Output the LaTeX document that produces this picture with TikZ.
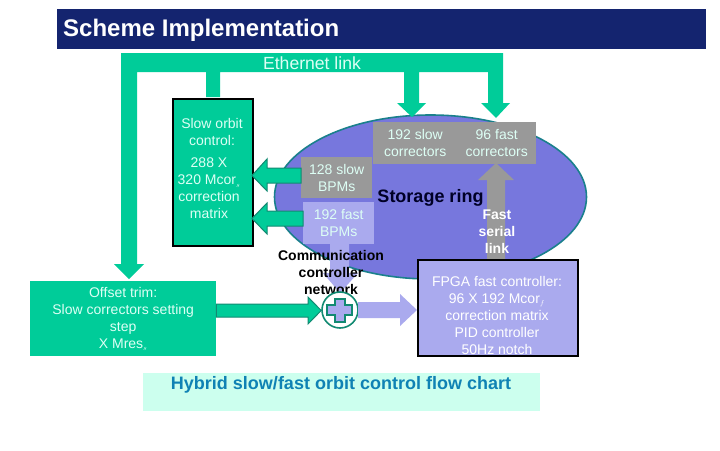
\documentclass[tikz,border=0pt]{standalone}
\usepackage{fontspec}
\setmainfont{Liberation Sans}
\usetikzlibrary{shapes.geometric}
\definecolor{navy}{HTML}{14246F}
\definecolor{bus}{HTML}{00CC99}
\definecolor{busdark}{HTML}{128A72}
\definecolor{ring}{HTML}{7777DD}
\definecolor{ringedge}{HTML}{1A808C}
\definecolor{lilac}{HTML}{AAAAEE}
\definecolor{slate}{HTML}{999999}
\definecolor{pale}{HTML}{CCFFEE}
\definecolor{capblue}{HTML}{0F82B4}
\definecolor{paletext}{HTML}{DDFFF5}
\newcommand{\fs}[2]{\fontsize{#1}{#2}\selectfont}
\tikzset{
  box/.style={inner sep=0pt, minimum width=#1, align=center, text=paletext, font=\fs{14}{17}},
  lab/.style={inner sep=0pt, align=center, font=\bfseries\fs{14}{17}},
  darrow/.style={fill=bus, draw=busdark, line width=1pt}
}
\begin{document}
\begin{tikzpicture}[x=1pt,y=-1pt,line join=miter]
\useasboundingbox (0,0) rectangle (720,450);
\fill[white] (0,0) rectangle (720,450);

% title
\node[fill=navy, minimum width=649pt, minimum height=40pt, inner sep=0pt, anchor=north west] (title) at (57,9) {};
\node[anchor=west, inner sep=0pt, text=white, font=\bfseries\fs{24}{28}] (titletxt) at (63,30) {Scheme Implementation};

% storage ring
\node[ellipse, draw=ringedge, line width=1.6pt, fill=ring, minimum width=312pt, minimum height=164pt, inner sep=0pt] (ring) at (430.5,197) {};

% ethernet bus
\fill[bus] (121,53) -- (503,53) -- (503,103) -- (510,103) -- (496,118) -- (481,103) -- (488,103) -- (488,72)
  -- (419,72) -- (419,103) -- (426,103) -- (412,117) -- (397,103) -- (404,103) -- (404,72)
  -- (220,72) -- (220,97) -- (206,97) -- (206,72) -- (137,72) -- (137,264) -- (144,264) -- (129,279) -- (114,264) -- (121,264) -- cycle;
\node[inner sep=0pt, text=paletext, font=\fs{17.6}{20}] (eth) at (312,63) {Ethernet link};

% slow controller
\node[draw=black, line width=2pt, fill=bus, minimum width=80pt, minimum height=147pt, inner sep=0pt, anchor=north west] (slow) at (172,98) {};
\node[box=80pt, anchor=north] (slowa) at (212,118) {Slow orbit\\control:};
\node[box=80pt, anchor=north] (slowb) at (209,158) {288 X\\320 Mcor$_{\scriptscriptstyle s}$\\correction\\matrix};

% BPM boxes
\node[fill=slate, minimum height=41pt, anchor=north west, box=71pt] (bpms) at (301,157) {128 slow\\BPMs};
\node[fill=lilac, minimum height=42pt, anchor=north west, box=71pt] (bpmf) at (303,202) {192 fast\\BPMs};

% correctors
\node[fill=slate, minimum height=42pt, anchor=north west, box=84pt] (corrs) at (373,122) {192 slow\\correctors};
\node[fill=slate, minimum height=42pt, anchor=north west, box=79pt] (corrf) at (457,122) {96 fast\\correctors};

% green arrows into slow box
\fill[darrow] (bpms.west |- 0,168) -- (267,168) -- (267,159) -- (252,175.5) -- (267,191) -- (267,183) -- (bpms.west |- 0,183) -- cycle;
\fill[darrow] (bpmf.west |- 0,211) -- (267,211) -- (267,203) -- (252,218.5) -- (267,234) -- (267,226) -- (bpmf.west |- 0,226) -- cycle;

% fast serial link
\fill[slate] (487,259) -- (487,180) -- (478,180) -- (496,163) -- (514,180) -- (505,180) -- (505,259) -- cycle;

\node[lab, text=black!85!blue, font=\bfseries\fs{18}{20}] (ringlab) at (430.5,198) {Storage ring};

% FPGA controller
\node[draw=black, line width=2pt, fill=lilac, minimum width=160pt, minimum height=96pt, inner sep=0pt, anchor=north west] (fpga) at (417,259) {};
\node[box=160pt, anchor=north, text=white] (fpgatxt) at (497,276) {FPGA fast controller:\\96 X 192 Mcor$_{\scriptscriptstyle f}$\\correction matrix\\PID controller\\50Hz notch};

\node[lab, text=white] (fsl) at (497,232) {Fast\\serial\\link};

% fast BPM to summing junction
\fill[lilac] (330,244) -- (349,244) -- (349,273) -- (358,273) -- (340,293) -- (323,273) -- (330,273) -- cycle;
\node[lab, text=black] (comm) at (331,272) {Communication\\controller\\network};

% summing junction
\node[circle, draw=busdark, line width=1.6pt, fill=white, minimum size=36pt, inner sep=0pt] (sum) at (340,310) {};
\fill[lilac, draw=busdark, line width=1.2pt] (335,299) -- (345,299) -- (345,305) -- (352,305) -- (352,315) -- (345,315) -- (345,322) -- (335,322) -- (335,315) -- (327,315) -- (327,305) -- (335,305) -- cycle;

% offset trim
\node[fill=bus, minimum height=75pt, anchor=north west, box=186pt] (offset) at (30,281) {Offset trim:\\Slow correctors setting\\step\\X Mres$_{\scriptscriptstyle s}$};
\fill[darrow] (offset.east |- 0,304) -- (308,304) -- (308,297) -- (sum.west |- 0,310.5) -- (308,324) -- (308,317) -- (offset.east |- 0,317) -- cycle;
\fill[lilac] (358,302) -- (400,302) -- (400,294) -- (fpga.west |- 0,310) -- (400,326) -- (400,318) -- (358,318) -- cycle;

% caption
\node[fill=pale, minimum width=397pt, minimum height=38pt, inner sep=0pt, anchor=north west] (cap) at (143,373) {};
\node[inner sep=0pt, text=capblue, font=\bfseries\fs{18}{20}] (captxt) at (341,385) {Hybrid slow/fast orbit control flow chart};
\end{tikzpicture}
\end{document}
